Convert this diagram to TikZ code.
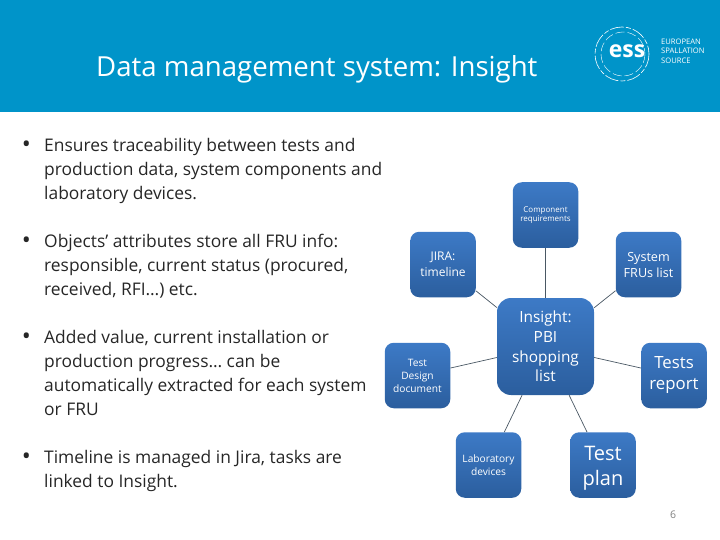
\documentclass[tikz,border=0pt]{standalone}
\usepackage{fontspec}
\setmainfont{Open Sans}
\definecolor{headblue}{HTML}{0094C9}
\definecolor{boxtop}{HTML}{3D7AC6}
\definecolor{boxbot}{HTML}{2B5E9E}
\definecolor{linkgray}{HTML}{4A5864}
\definecolor{bodytext}{HTML}{262626}
\tikzset{
  topic/.style={rounded corners=9pt,top color=boxtop,bottom color=boxbot,text=white,
    align=center,inner sep=0pt,minimum width=65.5pt,minimum height=65.5pt},
  bullet/.style={anchor=north west,align=left,inner sep=0pt,text=bodytext,
    font=\fontsize{17.4}{24}\selectfont},
  dot/.style={inner sep=0pt,text=bodytext,font=\fontsize{24}{24}\selectfont},
  link/.style={draw=linkgray,line width=0.7pt},
  ring/.style={draw=white,line width=0.6pt}
}
\begin{document}
\begin{tikzpicture}[x=1pt,y=-1pt]
  \useasboundingbox (0,0) rectangle (720,540);
  % Header band
  \fill[headblue] (0,0) rectangle (720,112);
  \node[anchor=base west,inner sep=0pt,text=white,font=\fontsize{27.6}{30}\selectfont] (title) at (96,77) {Data management system: Insight};

  % Logo
  \draw[ring,dash pattern=on 14pt off 2pt on 5pt off 2pt] (622,54) circle (27);
  \draw[ring,line width=0.4pt,dash pattern=on 9pt off 3pt] (623,54) circle (22);
  \node[inner sep=0pt,text=white,font=\fontsize{23}{23}\bfseries\selectfont] (essmark) at (627,51) {ess};
  \node[anchor=west,align=left,inner sep=0pt,text=white,font=\fontsize{7.6}{9.4}\selectfont] (esstext) at (661,51) {EUROPEAN\\SPALLATION\\SOURCE};

  % Bullets
  \node[dot] (dota) at (26.5,147) {•};
  \node[bullet] (texta) at (44,138) {Ensures traceability between tests and\\production data, system components and\\laboratory devices.};
  \node[dot] (dotb) at (26.5,243) {•};
  \node[bullet] (textb) at (44,234) {Objects’ attributes store all FRU info:\\responsible, current status (procured,\\received, RFI…) etc.};
  \node[dot] (dotc) at (26.5,339) {•};
  \node[bullet] (textc) at (44,330) {Added value, current installation or\\production progress… can be\\automatically extracted for each system\\or FRU};
  \node[dot] (dotd) at (26.5,459) {•};
  \node[bullet] (textd) at (44,450) {Timeline is managed in Jira, tasks are\\linked to Insight.};

  % Boxes
  \node[topic,minimum width=97pt,minimum height=97pt,rounded corners=14pt,font=\fontsize{15.4}{19.6}\selectfont] (insight) at (545.5,346.5) {Insight:\\PBI\\shopping\\list};
  \node[topic,font=\fontsize{8}{9}\selectfont] (component) at (545.5,215) {Component\\requirements};
  \node[topic,font=\fontsize{12}{16}\selectfont] (jira) at (443,264.5) {JIRA:\\timeline};
  \node[topic,font=\fontsize{12.6}{16}\selectfont] (frus) at (648.5,264.5) {System\\FRUs list};
  \node[topic,font=\fontsize{10.2}{13}\selectfont] (design) at (417.5,375.5) {Test\\Design\\document};
  \node[topic,font=\fontsize{16.8}{21}\selectfont] (report) at (674,375.5) {Tests\\report};
  \node[topic,font=\fontsize{10.2}{13}\selectfont] (lab) at (488.5,465) {Laboratory\\devices};
  \node[topic,font=\fontsize{20}{25}\selectfont] (plan) at (603,465) {\rule{0pt}{20pt}Test\\plan};

  % Links
  \draw[link] (insight) -- (component);
  \draw[link] (insight) -- (jira);
  \draw[link] (insight) -- (frus);
  \draw[link] (insight) -- (design);
  \draw[link] (insight) -- (report);
  \draw[link] (insight) -- (lab);
  \draw[link] (insight) -- (plan);

  \node[inner sep=0pt,text=gray,font=\fontsize{10.5}{12}\selectfont] (pagenum) at (673,515) {6};
\end{tikzpicture}
\end{document}
